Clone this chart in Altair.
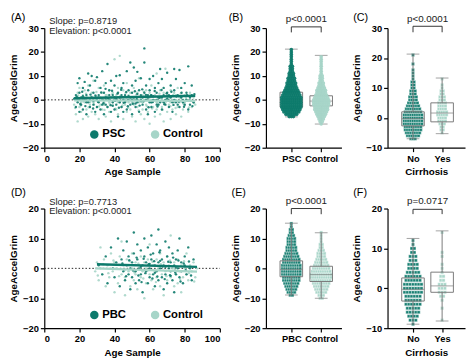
import altair as alt
import pandas as pd

DARK = "#0d7a6c"
LIGHT = "#a6d5c8"
BOXC = "#7a7a7a"
FONT = "Liberation Sans"

# ---------------- Panel A: age vs AgeAccelGrim (PSC vs Control) ----------------
a_psc = [(17,0.5),(18,-3),(18,2),(19,7),(19,-1),(20,9),(20,-5),(20,3),
         (21,1),(21,-2),(22,5),(22,-4),(23,7.5),(23,0),(24,2),(24,-6),(25,4),(25,-1),(25,11),
         (26,-3),(26,6),(27,10),(27,1),(28,-2),(28,3),(29,-5),(29,8),(30,0),(30,9.5),(30,-3),
         (31,2),(31,-1),(32,5),(32,-4),(33,12),(33,0),(34,3),(34,-6),(35,7),(35,1),(35,-2),
         (36,15),(36,-3),(37,4),(37,0),(38,8),(38,-5),(39,2),(39,-1),(40,6),(40,-4),(40,1),
         (41,10),(41,-2),(42,3),(42,-7),(43,10.3),(43,1),(44,5),(44,-3),(45,0),(45,7),(45,-5),
         (46,2),(46,-1),(47,12),(47,-4),(48,4),(48,0),(49,15.6),(49,-2),(50,6),(50,-6),(50,3),
         (51,13.5),(51,1),(52,-3),(52,8),(53,11.7),(53,-1),(54,4),(54,-5),(55,2),(55,0),(55,9),
         (56,-2),(57,21.5),(57,15.6),(57,3),(58,-4),(58,6),(59,1),(59,-6),(60,8.7),(60,-1),(60,4),
         (61,2),(61,-3),(62,10),(62,0),(63,-5),(63,5),(64,3),(64,-2),(65,7),(65,1),
         (66,12.9),(66,-1),(67,8.7),(67,-4),(68,2),(68,5),(69,-2),(69,0),(70,11.3),(70,3),
         (71,-3),(72,6),(72,1),(73,-5),(74,4),(74,12.9),(75,8.7),(75,-1),
         (76,2),(77,12.5),(77,-3),(78,5),(79,0),(80,-2),(80,7),
         (81,3),(82,14),(82,-4),(83,1),(84,6),(85,-1),
         (19,0),(22,1.5),(24,-1),(26,0.5),(28,-0.5),(31,1),(33,-2),(35,0),(37,2),(39,-2.5),
         (41,0.5),(43,-1),(44,2),(46,-0.5),(48,1.5),(50,0),(52,-1.5),(53,2.5),(55,-0.5),(56,1),
         (58,0),(59,2),(61,-1),(62,1.5),(64,0),(65,-2),(67,1),(68,-1),(70,0.5),(71,2),
         (73,-1),(74,0),(76,-2),(78,1),(79,-1),(81,0),(83,-2),(84,2),
         (18.5,1.3),(20.5,-1.7),(21.6,3.4),(23.4,-2.6),(24.7,0.8),(26.3,2.2),(27.8,-3.6),(29.2,1.7),
         (30.6,-0.8),(32.4,3.1),(33.7,-1.4),(34.9,4.6),(36.4,0.6),(37.8,-2.2),(38.6,3.8),(40.3,-0.4),
         (41.7,2.6),(42.5,-3.3),(43.8,4.2),(45.2,-1.2),(46.7,3.3),(47.6,-2.7),(48.9,1.1),(50.4,-1.6),
         (51.6,3.6),(52.7,0.3),(54.3,-2.4),(55.8,4.4),(56.6,-0.6),(57.9,2.1),(59.4,-3.1),(60.7,1.8),
         (61.8,-0.9),(62.9,3.7),(64.5,-2.8),(65.7,0.9),(66.8,4.1),(68.4,-1.8),(69.7,2.7),(70.8,-0.2),
         (72.4,3.4),(73.6,-2.1),(75.3,1.4),(76.7,-0.7),(78.2,3.0),(79.6,-2.9),(81.3,1.9),(82.7,-0.3),
         (84.4,-2.6),(85.5,2.4)]
a_ctrl = [(17,-2),(18,1),(18,-6),(19,3),(19,-9),(20,-3),(20,5),(21,0),(21,-5),(22,2),(22,-8),
          (23,-1),(23,4),(24,-4),(24,1),(25,6),(25,-7),(26,0),(26,-2),(27,3),(27,-5),(28,-1),(28,8),
          (29,2),(29,-6),(30,-3),(30,1),(31,5),(31,-8),(32,0),(32,-2),(33,3),(33,-4),(34,-1),(34,6),
          (35,2),(35,-7),(36,-3),(36,0),(37,4),(37,-5),(38,1),(38,-9),(39,-2),(39,3),(40,0),(40,17),
          (41,-4),(41,2),(42,-6),(42,5),(43,18.4),(43,-1),(44,1),(44,-3),(45,4),(45,-8),(46,0),(46,-2),
          (47,7),(47,-5),(48,-1),(48,2),(49,-4),(49,3),(50,-7),(50,1),(51,-2),(51,5),(52,0),(52,-9),
          (53,3),(53,-3),(54,-1),(54,9),(55,1),(55,-6),(56,-4),(56,2),(57,0),(57,-8),(58,4),(58,-2),
          (59,-5),(59,1),(60,3),(60,-10),(61,-1),(61,6),(62,-3),(62,0),(63,2),(63,-7),(64,-4),(64,11),
          (65,1),(65,-2),(66,-6),(66,4),(67,0),(67,-3),(68,3),(68,-9),(69,-1),(69,13),(70,2),(70,-5),
          (71,-2),(71,1),(72,-8),(72,4),(73,0),(73,-4),(74,-1),(74,3),(75,-6),(75,2),(76,5),(76,-3),
          (77,-1),(78,1),(78,-7),(79,-4),(80,2),(80,-2),(81,0),(82,-5),(83,3),(84,-3),(85,1),(86,-2),
          (18,0),(21,-1),(23,1),(26,-1),(29,0),(32,1),(34,-2),(37,-1),(40,1),(42,-1),(45,0),(47,1),
          (50,-1),(53,0),(56,-1),(58,1),(61,0),(64,-1),(66,1),(69,0),(72,-1),(75,0),(77,1),(80,-1),(83,0),
          (17.6,-3.4),(19.3,1.8),(20.7,-2.4),(22.4,-0.6),(23.8,2.6),(25.3,-3.1),(26.8,1.4),(28.3,-1.9),
          (29.7,3.3),(31.2,-2.8),(32.8,0.7),(34.3,-4.2),(35.6,1.9),(37.3,-1.6),(38.8,2.4),(40.6,-3.7),
          (41.8,-0.4),(43.3,1.6),(44.6,-2.3),(46.3,2.9),(47.8,-3.3),(49.3,0.4),(50.8,-1.4),(52.4,2.2),
          (53.8,-4.4),(55.4,-0.8),(56.7,3.4),(58.4,-2.6),(59.8,0.6),(61.4,-3.6),(62.8,1.7),(64.3,-1.1),
          (65.6,2.6),(67.4,-4.1),(68.7,-0.3),(70.4,1.3),(71.8,-2.7),(73.4,2.1),(74.8,-3.4),(76.3,-0.6),
          (77.8,2.8),(79.3,-1.6),(80.7,0.9),(82.4,-3.2),(83.7,1.6),(85.3,-1.3)]
a_psc_fit = [(17, 0.65), (86, 1.75)]
a_ctrl_fit = [(17, -0.2), (86, -0.4)]

# ---------------- Panel D: age vs AgeAccelGrim (PBC vs Control) ----------------
d_pbc = [(31,1),(33,-2),(35,4),(36,-5),(38,7),(39,0),(40,-3),(41,2),(42,10),(43,-6),(44,3),(45,-1),
         (45,6),(46,-4),(47,1),(47,9),(48,-2),(48,4),(49,-7),(49,0),(50,2),(50,-3),(51,12),(51,5),
         (52,-1),(52,-5),(53,3),(53,8),(54,0),(54,-4),(55,6),(55,-2),(56,1),(56,-8),(57,4),(57,10),
         (58,-1),(58,2),(59,-5),(59,7),(60,0),(60,-3),(61,3),(61,11),(62,-2),(62,5),(63,-6),(63,1),
         (64,8),(64,-1),(65,13),(65,2),(65,-4),(66,0),(66,6),(67,-3),(67,3),(68,-7),(68,1),(69,9),
         (69,-2),(70,4),(70,-5),(71,0),(71,7),(72,-1),(72,2),(73,-4),(73,5),(74,1),(74,-8),(75,3),
         (75,-2),(76,6),(76,0),(77,-3),(77,10),(78,2),(78,-1),(79,-5),(80,4),(80,1),(81,-2),(82,7),
         (83,0),(84,-4),(85,3),(55,0.5),(60,1.5),(63,-1.5),(66,2.5),(69,0.5),(72,-2.5),(75,0.5),
         (44.5,1.6),(46.6,-2.6),(48.4,2.7),(50.6,-0.7),(52.6,3.6),(53.6,-2.4),(55.4,-4.6),(56.6,3.2),
         (57.6,-1.6),(59.4,1.4),(60.6,4.6),(61.6,-3.4),(62.6,2.4),(64.4,-2.7),(65.6,5.4),(67.4,0.6),
         (68.6,-3.6),(70.6,2.2),(71.6,-2.3),(73.4,3.6),(74.6,-1.4),(76.4,2.6),(77.6,-4.4),(79.4,1.6),
         (80.6,-0.6),(82.4,2.3),(83.6,-2.4)]
d_ctrl = [(29,-1),(30,2),(31,-4),(32,7),(32,0),(33,-2),(34,3),(35,-6),(36,1),(37,-3),(38,5),(39,-1),
          (40,-8),(40,2),(41,0),(42,-5),(43,4),(44,-2),(44,9),(45,1),(46,-3),(46,-9),(47,3),(48,-1),
          (49,-6),(50,5),(50,0),(51,-4),(52,2),(52,-2),(53,-7),(54,1),(55,-3),(55,4),(56,-1),(57,-10),
          (57,2),(58,0),(58,-5),(59,3),(60,-2),(60,8),(61,-4),(62,1),(62,-7),(63,-1),(64,3),(64,-3),
          (65,0),(66,-6),(66,5),(67,-2),(68,2),(68,-9),(69,-1),(70,-4),(70,4),(71,1),(72,-3),(72,11),
          (73,0),(74,-6),(74,2),(75,-2),(76,3),(76,-5),(77,-1),(78,1),(78,-8),(79,-3),(80,0),(81,5),
          (81,-2),(82,-4),(83,1),(84,-1),(85,2),(86,-3),(87,0),
          (30.5,-2.4),(33.6,1.4),(36.5,-1.6),(39.4,2.6),(42.6,-2.6),(45.6,-0.6),(48.6,2.4),(51.4,-1.4),
          (53.6,1.6),(56.4,-3.4),(59.4,-0.6),(61.6,2.2),(63.6,-4.6),(66.4,1.4),(69.6,-2.6),(71.6,2.6),
          (74.4,-0.4),(77.4,-3.6),(79.6,2.4),(82.4,-1.6),(85.4,-4.4)]
d_pbc_fit = [(30, 1.4), (87, 0.5)]
d_ctrl_fit = [(29, 0.0), (87, -1.1)]

# ---------------- Box/swarm panels: stats = lo, q1, median, q3, hi ----------------
b_stats = [[-7.1, -3.0, 0.0, 3.2, 21.2], [-10.1, -2.5, -0.5, 1.7, 18.6]]
b_psc_levels = list(range(-7, 22))
b_psc_counts = [3,6,8,9,10,10,10,10,10,9,8,7,6,5,5,4,4,3,3,2,2,2,1,1,1,1,1,1,1]
b_ctrl_levels = list(range(-10, 19))
b_ctrl_counts = [1,2,3,4,5,6,7,7,8,8,8,7,6,5,5,4,3,3,2,2,2,1,1,1,1,1,1,1,1]

c_stats = [[-7.0, -2.7, -0.3, 2.0, 21.3], [-5.3, -1.35, 1.6, 5.0, 13.3]]
c_no_levels = list(range(-7, 22))
c_no_counts = [3,6,7,8,8,9,9,9,9,8,7,6,5,4,4,3,3,2,2,2,1,1,1,1,0,1,0,0,1]
c_yes_levels = list(range(-5, 14))
c_yes_counts = [1,2,2,3,4,4,5,5,4,4,4,3,3,2,2,1,1,0,1]

e_stats = [[-8.9, -2.8, -0.3, 2.5, 15.1], [-10.0, -4.4, -2.1, 0.7, 11.9]]
e_pbc_levels = list(range(-9, 16))
e_pbc_counts = [2,4,5,6,7,8,8,9,9,9,9,8,8,7,6,5,5,4,4,4,3,2,2,1,1]
e_ctrl_levels = list(range(-10, 13))
e_ctrl_counts = [2,3,5,6,7,8,9,10,10,9,8,7,6,5,4,4,3,2,2,1,1,1,1]

f_stats = [[-9.0, -3.2, -0.25, 2.6, 12.5], [-8.2, -1.0, 0.6, 4.05, 14.4]]
f_no_levels = list(range(-9, 13))
f_no_counts = [1,3,4,5,5,6,6,6,7,7,7,6,6,5,4,4,3,3,2,2,1,1]
f_yes_levels = list(range(-8, 15))
f_yes_counts = [1,0,0,1,0,1,2,3,3,3,2,2,1,1,1,0,1,1,0,0,0,0,1]


def sx(field, domain, values, title, labelexpr=None):
    kw = dict(values=values, title=title)
    if labelexpr:
        kw["labelExpr"] = labelexpr
    return alt.X(f"{field}:Q", scale=alt.Scale(domain=domain, nice=False, zero=False), axis=alt.Axis(**kw))


def sy(field, domain, values):
    return alt.Y(f"{field}:Q", scale=alt.Scale(domain=domain, nice=False, zero=False),
                 axis=alt.Axis(values=values, title="AgeAccelGrim"))


def ptext(txt, x, y, size, weight="normal", align="left", color="black"):
    return alt.Chart(pd.DataFrame({"t": [txt]})).mark_text(
        align=align, baseline="middle", fontSize=size, fontWeight=weight, color=color
    ).encode(x=alt.value(x), y=alt.value(y), text="t:N")


def pdot(x, y, color):
    return alt.Chart(pd.DataFrame({"t": [0]})).mark_circle(size=75, color=color, opacity=1).encode(
        x=alt.value(x), y=alt.value(y))


def scatter_panel(dark, light, dark_fit, light_fit, ydom, yvals, w, h, label, slope, elev, name, lab_y):
    X = lambda f: sx(f, [0, 100], [0, 20, 40, 60, 80, 100], "Age Sample")
    Y = lambda f: sy(f, ydom, yvals)
    dd = pd.DataFrame(dark, columns=["x", "y"])
    ld = pd.DataFrame(light, columns=["x", "y"])
    df_ = pd.DataFrame(dark_fit, columns=["x", "y"])
    lf_ = pd.DataFrame(light_fit, columns=["x", "y"])
    zero = pd.DataFrame({"x": [0], "x2": [100], "y": [0]})
    layers = [
        alt.Chart(zero).mark_rule(color="#222", strokeDash=[1.5, 2], strokeWidth=1).encode(
            x=X("x"), x2="x2", y=Y("y")),
        alt.Chart(ld).mark_circle(size=6, color=LIGHT, opacity=0.9).encode(x=X("x"), y=Y("y")),
        alt.Chart(dd).mark_circle(size=6, color=DARK, opacity=0.9).encode(x=X("x"), y=Y("y")),
        alt.Chart(lf_).mark_line(color=LIGHT, strokeWidth=2.2).encode(x=X("x"), y=Y("y")),
        alt.Chart(df_).mark_line(color=DARK, strokeWidth=2.5).encode(x=X("x"), y=Y("y")),
        ptext(label, -34, lab_y, 11),
        ptext(slope, 5, -7, 9.5, color="#222"),
        ptext(elev, 5, 3, 9.5, color="#222"),
        pdot(51, 108.5, DARK), ptext(name, 59, 108.5, 11.5, "bold"),
        pdot(113, 108.5, LIGHT), ptext("Control", 121, 108.5, 11.5, "bold"),
    ]
    return alt.layer(*layers).properties(width=w, height=h)


def swarm(levels, counts, center, step):
    rows = []
    for v, n in zip(levels, counts):
        for i in range(n):
            rows.append({"x": center + (i - (n - 1) / 2) * step, "y": v})
    return pd.DataFrame(rows)


def box_panel(stats, g1, g2, xdom, xlabels, xtitle, ydom, yvals, w, h, pxu, step_px,
              dsize, shape, label, lab_x, lab_y, ptxt, brk_top, brk_tip, p_y, box_on_top):
    expr = f"datum.value == 1 ? '{xlabels[0]}' : '{xlabels[1]}'"
    X = lambda f: sx(f, xdom, [1, 2], xtitle, expr)
    Y = lambda f: sy(f, ydom, yvals)
    st = pd.DataFrame(stats, columns=["lo", "q1", "med", "q3", "hi"])
    st["x"] = [1, 2]
    step = step_px / pxu
    s1 = swarm(g1[0], g1[1], 1, step)
    s2 = swarm(g2[0], g2[1], 2, step)
    hb = pd.DataFrame({"x": [1], "x2": [2], "y": [brk_top]})
    vb = pd.DataFrame({"x": [1, 2], "y": [brk_top, brk_top], "y2": [brk_tip, brk_tip]})
    pt = pd.DataFrame({"x": [1.5], "t": [ptxt]})
    base = alt.Chart(st)
    box_layers = [
        base.mark_rule(color=BOXC, strokeWidth=1).encode(x=X("x"), y=Y("lo"), y2="q1"),
        base.mark_rule(color=BOXC, strokeWidth=1).encode(x=X("x"), y=Y("q3"), y2="hi"),
        base.mark_tick(orient="horizontal", size=13, thickness=1, color=BOXC).encode(x=X("x"), y=Y("lo")),
        base.mark_tick(orient="horizontal", size=13, thickness=1, color=BOXC).encode(x=X("x"), y=Y("hi")),
        base.mark_bar(size=23, fillOpacity=0, stroke=BOXC, strokeWidth=1).encode(x=X("x"), y=Y("q1"), y2="q3"),
        base.mark_tick(orient="horizontal", size=23, thickness=1, color=BOXC).encode(x=X("x"), y=Y("med")),
    ]
    if shape == "square":
        pkw = dict(stroke="white", strokeWidth=0.4)
    else:
        pkw = {}
    point_layers = [
        alt.Chart(s1).mark_point(filled=True, shape=shape, size=dsize, fill=DARK, opacity=0.95, **pkw).encode(
            x=X("x"), y=Y("y")),
        alt.Chart(s2).mark_point(filled=True, shape=shape, size=dsize, fill=LIGHT, opacity=0.95, **pkw).encode(
            x=X("x"), y=Y("y")),
    ]
    layers = (point_layers + box_layers) if box_on_top else (box_layers + point_layers)
    layers += [
        alt.Chart(hb).mark_rule(color="#333", strokeWidth=1).encode(x=X("x"), x2="x2", y=Y("y")),
        alt.Chart(vb).mark_rule(color="#333", strokeWidth=1).encode(x=X("x"), y=Y("y"), y2="y2"),
        alt.Chart(pt).mark_text(fontSize=10, baseline="middle", color="#222").encode(
            x=X("x"), y=alt.value(p_y), text="t:N"),
        ptext(label, lab_x, lab_y, 11),
    ]
    return alt.layer(*layers).properties(width=w, height=h)


WA, WB, WC, H = 179, 77, 79, 122
XB = [0.314, 2.514]
XC = [0.294, 2.618]

pa = scatter_panel(a_psc, a_ctrl, a_psc_fit, a_ctrl_fit, [-20, 30], [-20, -10, 0, 10, 20, 30],
                   WA, H, "(A)", "Slope: p=0.8719", "Elevation: p<0.0001", "PSC", -10)
pb = box_panel(b_stats, (b_psc_levels, b_psc_counts), (b_ctrl_levels, b_ctrl_counts), XB,
               ["PSC", "Control"], None, [-20, 30], [-20, -10, 0, 10, 20, 30], WB, H, 35, 2.5,
               14, "circle", "(B)", -38, -10, "p<0.0001", 30.5, 28.2, -9, False)
pc = box_panel(c_stats, (c_no_levels, c_no_counts), (c_yes_levels, c_yes_counts), XC,
               ["No", "Yes"], "Cirrhosis", [-10, 30], [-10, 0, 10, 20, 30], WC, H, 34, 2.6,
               10, "square", "(C)", -35, -10, "p<0.0001", 30.6, 28.6, -9, True)
pd_ = scatter_panel(d_pbc, d_ctrl, d_pbc_fit, d_ctrl_fit, [-20, 20], [-20, -10, 0, 10, 20],
                    WA, H, "(D)", "Slope: p=0.7713", "Elevation: p<0.0001", "PBC", -16)
pe = box_panel(e_stats, (e_pbc_levels, e_pbc_counts), (e_ctrl_levels, e_ctrl_counts), XB,
               ["PBC", "Control"], None, [-20, 20], [-20, -10, 0, 10, 20], WB, H, 35, 2.6,
               10, "square", "(E)", -35, -16, "p<0.0001", 20.0, 18.1, -8, True)
pf = box_panel(f_stats, (f_no_levels, f_no_counts), (f_yes_levels, f_yes_counts), XC,
               ["No", "Yes"], "Cirrhosis", [-10, 20], [-10, 0, 10, 20], WC, H, 34, 3.3,
               10, "square", "(F)", -35, -16, "p=0.0717", 19.8, 18.6, -8, True)

chart = alt.concat(pa, pb, pc, pd_, pe, pf, columns=3,
                   spacing={"row": 62, "column": 47}, bounds="flush").properties(
    padding=0
).configure_view(stroke="transparent").configure_axis(
    grid=False, domainColor="black", domainWidth=1.2, tickColor="black", tickWidth=1.2, tickSize=4,
    labelFont=FONT, labelFontWeight="bold", labelFontSize=9.5, labelColor="black", labelPadding=2,
    titleFont=FONT, titleFontWeight="bold", titleFontSize=10, titleColor="black", titlePadding=4
).configure_text(font=FONT)

chart.save("out.html", embed_options={"renderer": "svg", "actions": False})
